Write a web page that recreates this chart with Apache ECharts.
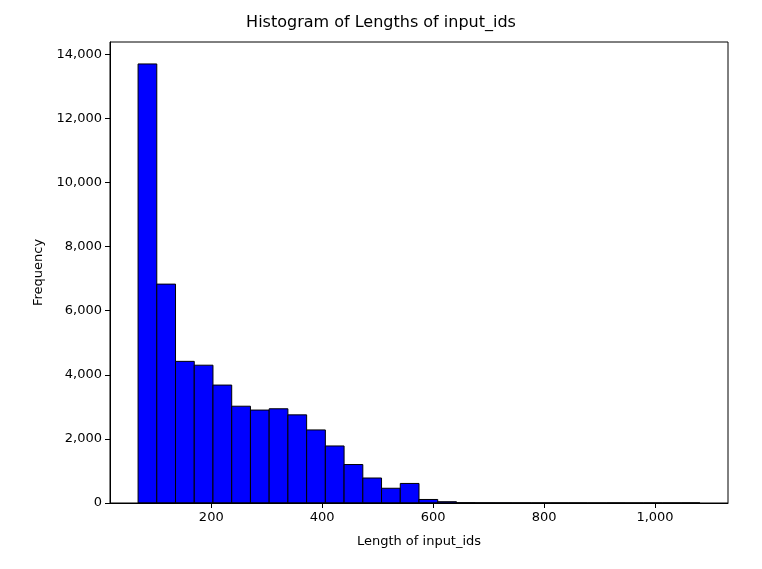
<!DOCTYPE html>
<html><head><meta charset="utf-8">
<script src="https://cdn.jsdelivr.net/npm/echarts@6/dist/echarts.min.js"></script>
<style>html,body{margin:0;padding:0;background:#fff}</style></head>
<body><div id="c" style="width:762px;height:569px"></div>
<script>
const binStart = 68;
const binEnd = 1081;
const counts = [13700,6830,4420,4300,3680,3020,2900,2940,2750,2280,1780,1200,780,460,610,110,40,8,4,3,2,1,1,1,0,1,0,0,0,1];
const yTicks = [0,2000,4000,6000,8000,10000,12000,14000];
const xTicks = [200,400,600,800,1000];
const w = (binEnd-binStart)/counts.length;
const data = counts.map((c,i)=>[binStart+i*w, binStart+(i+1)*w, c]);
const chart = echarts.init(document.getElementById('c'));
const font = {fontFamily:'DejaVu Sans', fontSize:13, color:'#000'};
chart.setOption({
  animation:false,
  title:{text:'Histogram of Lengths of input_ids', left:'center', top:10, textStyle:{fontFamily:'DejaVu Sans',fontSize:16,fontWeight:'normal',color:'#000'}},
  grid:{left:110,right:34,top:42,bottom:66},
  xAxis:{type:'value',min:17.4,max:1131.6,name:'Length of input_ids',nameLocation:'middle',nameGap:32,nameTextStyle:font,
    axisLine:{onZero:false,lineStyle:{color:'#000'}},axisTick:{length:5,lineStyle:{color:'#000'},customValues:xTicks},
    axisLabel:Object.assign({customValues:xTicks},font),splitLine:{show:false}},
  yAxis:{type:'value',min:0,max:14385,name:'Frequency',nameLocation:'middle',nameGap:62,nameTextStyle:font,
    axisLine:{show:true,lineStyle:{color:'#000'}},axisTick:{show:true,length:5,lineStyle:{color:'#000'},customValues:yTicks},
    axisLabel:Object.assign({customValues:yTicks},font),splitLine:{show:false}},
  series:[{type:'custom',data:data,encode:{x:[0,1],y:2},
    renderItem:(p,api)=>{const a=api.coord([api.value(0),api.value(2)]);const b=api.coord([api.value(1),0]);
      return {type:'rect',shape:{x:a[0],y:a[1],width:b[0]-a[0],height:b[1]-a[1]},style:{fill:'#0000ff',stroke:'#000',lineWidth:1}};}}],
  graphic:[{type:'rect',shape:{x:110,y:42,width:618,height:461},style:{fill:'none',stroke:'#000',lineWidth:1},z:100}]
});
</script></body></html>
